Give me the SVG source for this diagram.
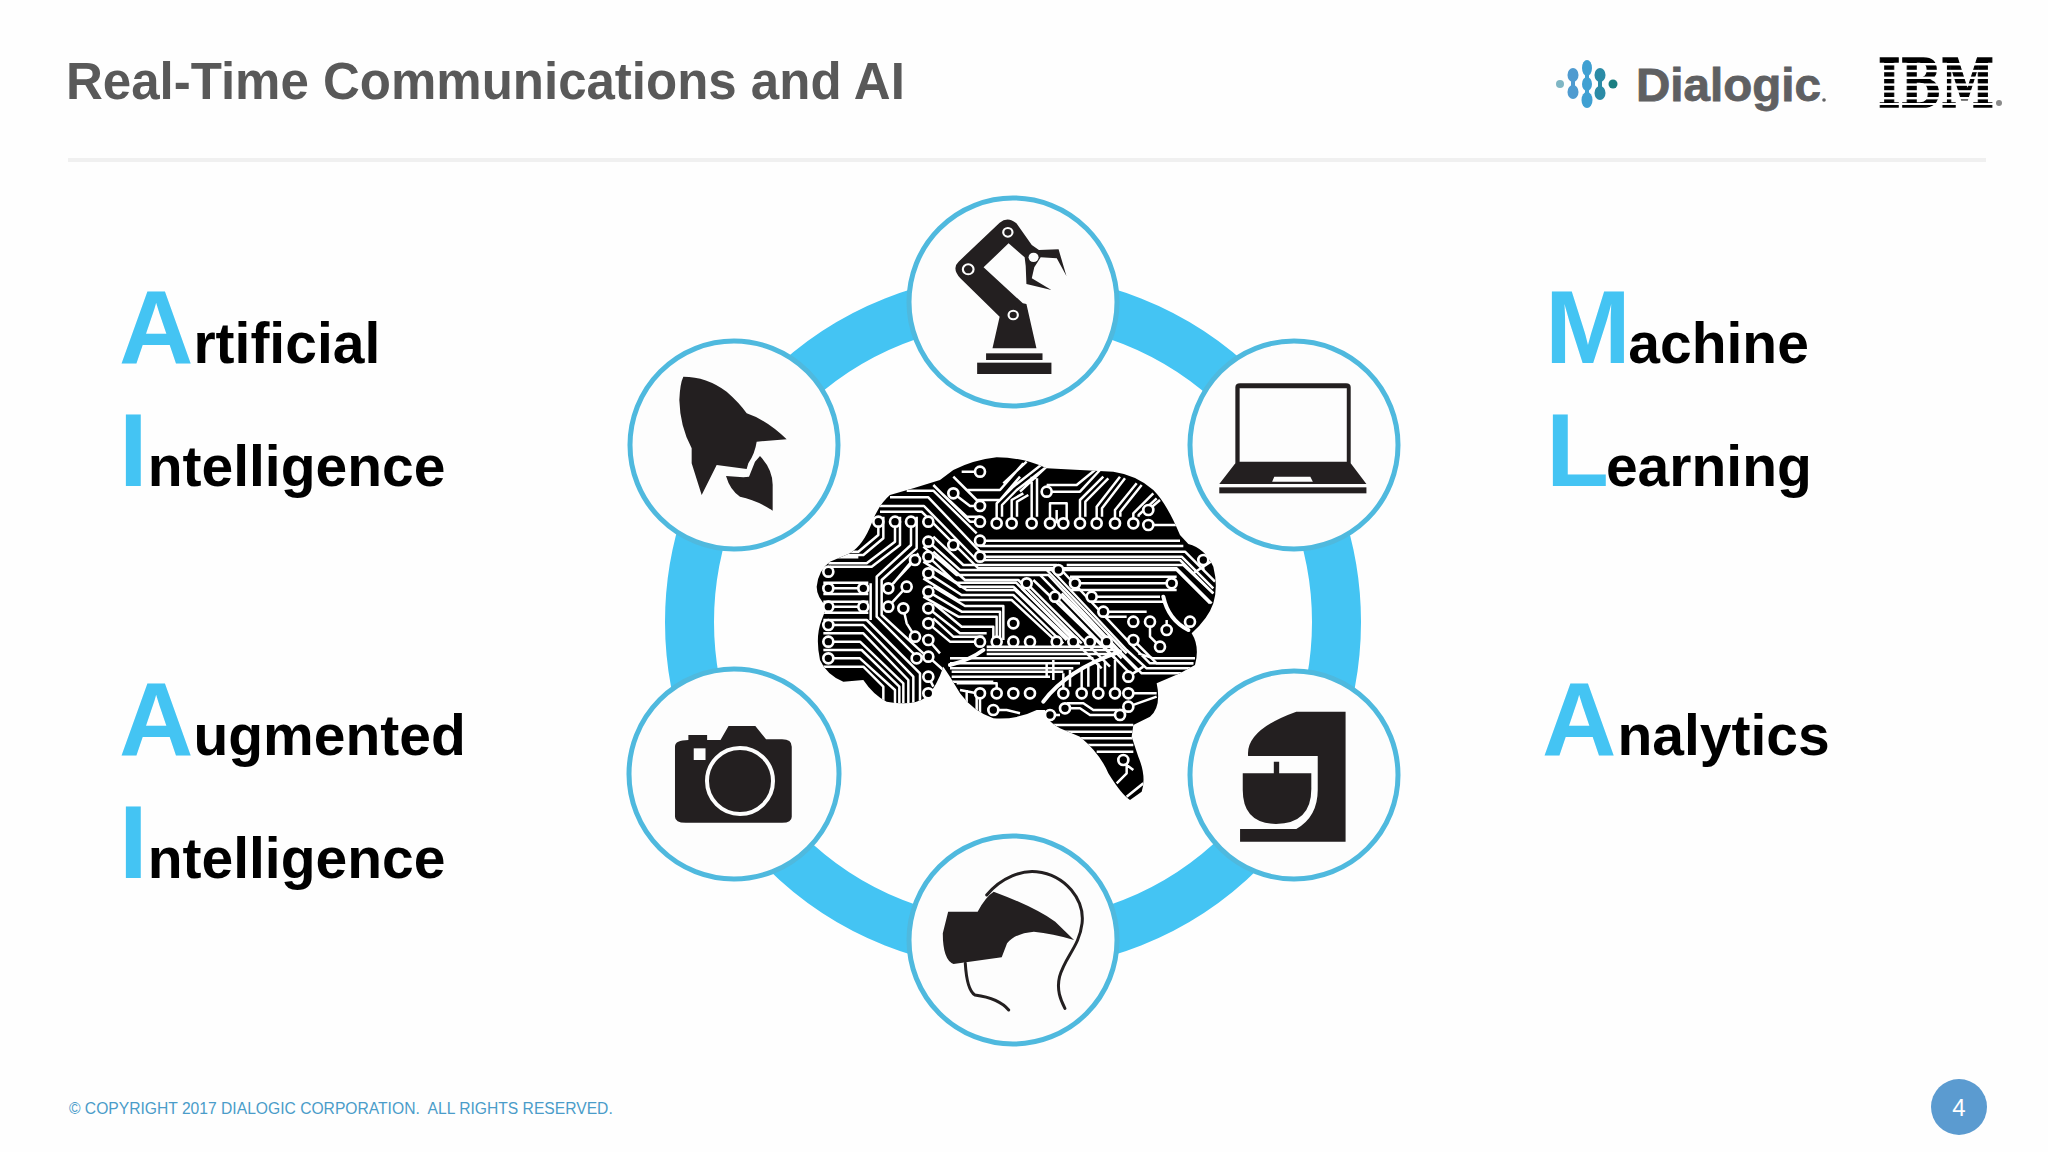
<svg xmlns="http://www.w3.org/2000/svg" xmlns:xlink="http://www.w3.org/1999/xlink" width="2048" height="1152" viewBox="0 0 2048 1152">
<style>
text{font-family:"Liberation Sans",Arial,sans-serif}
.lab{font-weight:700;fill:#000}
.cap{font-size:103px;fill:#44c4f3}
.low{font-size:57px}
.node{fill:#fdfdfd;stroke:#4fb9de;stroke-width:5}
.ink{fill:#231f20}
.hole{fill:#fdfdfd}
.t{fill:none;stroke:#fff;stroke-width:7.500;stroke-linejoin:round}
.p{fill:#000;stroke:#fff;stroke-width:8}
.line{fill:none;stroke:#231f20;stroke-width:3;vector-effect:non-scaling-stroke;stroke-linecap:round}
</style>
<defs>
<circle id="p" class="p" r="15"/>
<clipPath id="bc"><path id="bs" d="M110,500 Q115,450 150,425 L210,400 Q250,375 275,310 Q295,255 330,225 L400,205 L480,180 L520,150 Q580,120 650,112 Q730,112 800,145 L900,150 L1000,155 Q1070,165 1120,210 Q1160,250 1200,345 L1225,372 Q1275,385 1300,440 Q1315,500 1300,550 Q1285,595 1235,640 Q1260,680 1245,735 L1200,760 L1130,790 Q1145,860 1110,890 L1060,915 L1055,950 L1075,1010 Q1100,1070 1085,1115 L1050,1140 Q1025,1125 985,1060 Q960,1000 900,950 L840,925 Q795,900 795,870 L770,870 Q710,900 640,895 Q580,875 540,820 L510,770 L490,740 Q470,800 440,830 Q400,860 320,845 Q280,825 250,780 L190,785 Q140,765 120,720 Q105,650 125,600 L140,560 Q110,530 110,500Z"/></clipPath>
</defs>
<rect width="2048" height="1152" fill="#fefefe"/>

<g id="header">
<text x="66" y="99" font-size="51" font-weight="700" fill="#595959">Real-Time Communications and AI</text>
<rect x="68" y="158" width="1918" height="4" fill="#f0f0f0"/>
</g>

<g id="logo-dialogic">
<circle cx="1560" cy="84" r="4" fill="#7fb6c4"/>
<g fill="#4f9bd0"><ellipse cx="1573" cy="75" rx="5.500" ry="7"/><ellipse cx="1573" cy="92" rx="5.500" ry="7"/><rect x="1571" y="72" width="4" height="24"/></g>
<g fill="#3fa0d2"><ellipse cx="1587" cy="68" rx="5" ry="8"/><ellipse cx="1587" cy="84" rx="5" ry="7"/><ellipse cx="1587" cy="100" rx="5.500" ry="8"/><rect x="1585" y="64" width="4" height="40"/></g>
<g fill="#2b8ba6"><ellipse cx="1600" cy="75" rx="5.500" ry="7"/><ellipse cx="1600" cy="93" rx="5.500" ry="7"/><rect x="1598" y="72" width="4" height="24"/></g>
<circle cx="1613" cy="84" r="4.500" fill="#1b7f82"/>
<text x="1636" y="101" font-size="46" font-weight="700" fill="#5f6062" stroke="#5f6062" stroke-width=".8" textLength="185" lengthAdjust="spacingAndGlyphs">Dialogic</text>
<circle cx="1824" cy="100" r="1.800" fill="#5f6062"/>
</g>
<g id="logo-ibm">
<text x="1878" y="107" font-size="67" font-weight="700" fill="#000" stroke="#000" stroke-width="1.500" style="font-family:'DejaVu Serif',serif" textLength="116" lengthAdjust="spacingAndGlyphs">IBM</text>
<g fill="#fefefe"><rect x="1875" y="63" width="122" height="2.400"/><rect x="1875" y="69.800" width="122" height="2.400"/><rect x="1875" y="76.600" width="122" height="2.400"/><rect x="1875" y="83.400" width="122" height="2.400"/><rect x="1875" y="90.200" width="122" height="2.400"/><rect x="1875" y="97" width="122" height="2.400"/><rect x="1875" y="103" width="122" height="2"/></g>
<circle cx="1999" cy="103" r="3" fill="#8a8a8a"/>
</g>

<g id="labels">
<text class="lab" x="119" y="362.500"><tspan class="cap">A</tspan><tspan class="low">rtificial</tspan></text>
<text class="lab" x="119" y="485.500"><tspan class="cap">I</tspan><tspan class="low">ntelligence</tspan></text>
<text class="lab" x="119" y="754.500"><tspan class="cap">A</tspan><tspan class="low">ugmented</tspan></text>
<text class="lab" x="119" y="877.500"><tspan class="cap">I</tspan><tspan class="low">ntelligence</tspan></text>
<text class="lab" x="1545" y="362.500"><tspan class="cap">M</tspan><tspan class="low" dx="-2.500">achine</tspan></text>
<text class="lab" x="1546" y="485.500"><tspan class="cap">L</tspan><tspan class="low" dx="-3">earning</tspan></text>
<text class="lab" x="1542" y="754.500"><tspan class="cap">A</tspan><tspan class="low" dx="1">nalytics</tspan></text>
</g>

<g id="connectors">
<circle cx="1013" cy="622" r="323.500" fill="none" stroke="#44c4f3" stroke-width="49"/>
</g>

<g id="node-brain" transform="translate(780 420) scale(.33333)">
<use href="#bs" fill="#000"/>
<g clip-path="url(#bc)">
<path class="t" d="M330,232H445L600,395H1215L1305,485M300,258H432L590,420H1200L1300,520M380,212H460L590,340M460,195L570,305H600M520,220L570,258H600M520,170L560,210H660L730,130M545,155H600M650,310V250L700,200L790,130M695,310V240L730,220M755,310V170M810,310V250H860V310M830,310V270M800,215H900L960,150M900,310V240L970,170M950,310V260L1020,170M1005,310V270L1070,190M1060,310V280L1120,220M1105,315H1190M1105,270L1140,240M600,362H1200M600,378H1210M670,190L740,125M720,215L800,140M666,290V255L710,210L800,140M711,290V245L745,225M771,290V175M916,290V245L985,175M966,290V265L1035,175M1021,290V275L1085,195M1076,290V285L1130,235M300,275H425L595,445H1190L1295,550M600,410H1205L1300,505M800,195H890L945,150M540,190L590,240H660L720,170M480,215L560,290H600"/>
<path class="t" d="M295,305V345L235,395H150M345,305V365L260,430H145M393,305V375L290,470V590L415,715M410,290V385L305,480V585L430,700M405,420L325,505M380,500L325,560M370,565L380,610L405,650M145,505H250M130,488H265M130,522H265M145,560H250M145,615H250L400,770V850M145,665H240L370,790V850M130,600H260L420,760V850M145,715H240L345,810V850M130,640H250L385,780V850M130,690H245L358,800V850M130,740H250L310,800V850M150,430H250M150,412H235M310,290V355L250,405H150M360,290V375L275,440H150M130,545H265M130,578H265M415,400L340,490M272,490V600"/>
<path class="t" d="M445,365L540,450H815L1040,690L1100,745H1240M445,410L540,500H700L880,670M445,460L545,525H700L850,670M445,515L545,575H660V670M445,565L540,640H620M445,610L510,665H600M445,660L480,700M445,710L490,750M445,770L460,800M460,350L550,435H830L1060,680L1110,730H1240M460,395L555,480H715L905,670M460,445L560,510H705L860,660M460,500L555,558H670V660M460,550L545,620H640V660M460,595L520,650H610M430,380L530,465H805L1025,700L1085,760H1230M430,425L530,488H708L895,670M430,475L535,540H695L835,670M430,530L535,590H650V660M1075,700L1120,715H1245"/>
<path class="t" d="M740,490L990,740M760,480L1010,720M825,530L1050,760M800,450L1040,700M835,450H1190L1290,550M860,435H1210L1300,520M885,490H1175M870,470H1190M870,510H1190M935,530H1140M935,545H1150M970,575H1100M970,590H1040M1110,605V650L1140,680M1060,660L1130,730H1240M1270,420V450M1240,460L1300,420M1160,630V600M725,505L965,745M780,465L1025,715M845,520L1075,755"/>
<path class="t" d="M620,690H1010M620,680H1000M620,702H1000M510,715H940M510,730H900M510,745H880M515,755H850M515,770H810M530,790H650V820M515,785H640M540,810L590,820V880M600,820V880M560,810V860M800,730V770M820,720V780M850,820V760M905,820V745M955,820V730M1005,820V720M870,800V750M925,800V740M975,800V725M1045,770L1090,740M1045,820H1130M1045,860L1130,830M810,885H840M855,865H900L930,885H1020M860,850H910L940,870H1030M640,870H680L720,880M820,915H1060M850,935H1060M880,955H1060M920,975H1060M950,995H1060M1020,1020L1060,1050M1040,1010V1060L1010,1090M1090,1090L1040,1130"/>
</g>
<g><use href="#p" x="600" y="155"/><use href="#p" x="600" y="258"/><use href="#p" x="600" y="305"/><use href="#p" x="520" y="220"/><use href="#p" x="445" y="305"/><use href="#p" x="520" y="375"/><use href="#p" x="600" y="362"/><use href="#p" x="600" y="410"/>
<use href="#p" x="650" y="310"/><use href="#p" x="695" y="310"/><use href="#p" x="755" y="310"/><use href="#p" x="810" y="310"/><use href="#p" x="850" y="310"/><use href="#p" x="900" y="310"/><use href="#p" x="950" y="310"/><use href="#p" x="1005" y="310"/><use href="#p" x="1060" y="310"/><use href="#p" x="1105" y="315"/><use href="#p" x="1105" y="270"/><use href="#p" x="800" y="215"/>
<use href="#p" x="295" y="305"/><use href="#p" x="345" y="305"/><use href="#p" x="393" y="305"/><use href="#p" x="405" y="420"/><use href="#p" x="325" y="505"/><use href="#p" x="380" y="500"/><use href="#p" x="325" y="560"/><use href="#p" x="370" y="565"/><use href="#p" x="405" y="650"/><use href="#p" x="410" y="715"/>
<use href="#p" x="145" y="455"/><use href="#p" x="145" y="505"/><use href="#p" x="250" y="505"/><use href="#p" x="145" y="560"/><use href="#p" x="250" y="560"/><use href="#p" x="145" y="615"/><use href="#p" x="145" y="665"/><use href="#p" x="145" y="715"/>
<use href="#p" x="445" y="365"/><use href="#p" x="445" y="410"/><use href="#p" x="445" y="460"/><use href="#p" x="445" y="515"/><use href="#p" x="445" y="565"/><use href="#p" x="445" y="610"/><use href="#p" x="445" y="660"/><use href="#p" x="445" y="710"/><use href="#p" x="445" y="770"/><use href="#p" x="445" y="820"/>
<use href="#p" x="835" y="450"/><use href="#p" x="885" y="490"/><use href="#p" x="1175" y="490"/><use href="#p" x="935" y="530"/><use href="#p" x="970" y="575"/><use href="#p" x="740" y="490"/><use href="#p" x="825" y="530"/><use href="#p" x="1060" y="605"/><use href="#p" x="1110" y="605"/><use href="#p" x="1160" y="630"/><use href="#p" x="1230" y="605"/><use href="#p" x="1060" y="660"/><use href="#p" x="1140" y="680"/><use href="#p" x="1270" y="420"/>
<use href="#p" x="600" y="665"/><use href="#p" x="650" y="665"/><use href="#p" x="700" y="665"/><use href="#p" x="750" y="665"/><use href="#p" x="700" y="610"/><use href="#p" x="830" y="665"/><use href="#p" x="880" y="665"/><use href="#p" x="930" y="665"/><use href="#p" x="980" y="665"/>
<use href="#p" x="600" y="820"/><use href="#p" x="650" y="820"/><use href="#p" x="700" y="820"/><use href="#p" x="750" y="820"/><use href="#p" x="850" y="820"/><use href="#p" x="905" y="820"/><use href="#p" x="955" y="820"/><use href="#p" x="1005" y="820"/><use href="#p" x="1045" y="770"/><use href="#p" x="1045" y="820"/><use href="#p" x="1045" y="860"/><use href="#p" x="810" y="885"/><use href="#p" x="855" y="865"/><use href="#p" x="1020" y="885"/><use href="#p" x="640" y="870"/><use href="#p" x="1030" y="1020"/></g>
<path fill="none" stroke="#fff" stroke-width="12" stroke-linecap="round" d="M510,735Q570,720 610,690M790,845Q860,750 1020,695M1150,530Q1165,600 1225,630"/>
</g>

<g id="node-robot">
<circle class="node" cx="1013" cy="302" r="104"/>
<g transform="translate(880 180) scale(.35714 .33333)">
<path class="ink" d="M220,245L335,128Q358,108 382,130L425,195L445,210L500,208L522,288L495,235L450,232L432,262L425,295L480,330L410,312L408,258L405,232L360,190L290,262L400,370L410,372L438,505H315L335,410L225,295Q200,265 220,245Z"/>
<circle class="hole" cx="430" cy="232" r="14"/>
<ellipse cx="358" cy="157" rx="13" ry="13" fill="none" stroke="#fdfdfd" stroke-width="6"/>
<ellipse cx="247" cy="268" rx="15" ry="15" fill="none" stroke="#fdfdfd" stroke-width="6"/>
<ellipse cx="373" cy="405" rx="13" ry="13" fill="none" stroke="#fdfdfd" stroke-width="6"/>
<rect class="ink" x="297" y="520" width="158" height="20"/>
<rect class="ink" x="272" y="548" width="208" height="34"/>
</g>
</g>

<g id="node-laptop">
<circle class="node" cx="1294" cy="445" r="104"/>
<g transform="translate(880 180) scale(.35714 .33333)">
<path class="ink" fill-rule="evenodd" d="M995,622Q995,610 1008,610H1305Q1318,610 1318,622V850L1362,912H950L995,850ZM1007,625V845H1307V625ZM1104,890L1098,905H1212L1205,890Z"/>
<rect class="ink" x="950" y="922" width="412" height="18"/>
</g>
</g>

<g id="node-rocket">
<circle class="node" cx="734" cy="445" r="104"/>
<g transform="translate(600 320) scale(.33333)">
<path class="ink" d="M250,170Q320,170 380,215Q420,250 440,280Q500,300 560,358L470,365Q465,400 445,430L440,447L350,435L305,525L275,430L275,385Q240,320 238,240Q240,190 250,170Z"/>
<path class="ink" d="M378,468L430,472L447,470L465,425L480,408Q520,450 518,500L518,572Q470,540 420,530Q390,510 378,468Z"/>
</g>
</g>

<g id="node-camera">
<circle class="node" cx="734" cy="774" r="105"/>
<g transform="translate(600 650) scale(.53562 .33333)">
<path class="ink" d="M140,290Q140,270 165,270V255H200V270H225L240,228H290L310,268H340Q358,268 358,290V500Q358,518 340,518H160Q140,518 140,500Z"/>
<rect class="hole" x="175" y="295" width="22" height="35"/>
</g>
<circle cx="740" cy="781" r="33" fill="none" stroke="#fdfdfd" stroke-width="4"/>
</g>

<g id="node-mouse">
<circle class="node" cx="1294" cy="775" r="104"/>
<g transform="translate(600 650) scale(.53562 .33333)">
<path class="ink" d="M1300,185H1392V575H1195V537H1300Q1340,500 1340,420V318H1210Q1205,240 1300,185Z"/>
<path class="ink" d="M1200,370H1258V335H1268V370H1328V410Q1330,520 1262,522Q1200,520 1200,420Z"/>
</g>
</g>

<g id="node-vr">
<circle class="node" cx="1013" cy="940" r="104"/>
<g transform="translate(600 650) scale(.53562 .33333)">
<path class="ink" d="M735,725Q810,770 850,815L885,870Q845,850 810,845Q775,850 760,880L750,922L660,942Q640,930 640,850L650,785L705,785Q720,740 735,725Z"/>
<path class="line" d="M722,735C750,680 790,660 815,665C870,675 905,750 900,820C895,890 868,920 858,980C852,1020 860,1050 868,1075M682,940Q685,1020 700,1035Q745,1045 763,1080"/>
</g>
</g>

<g id="footer">
<text x="69" y="1114" font-size="15.650" fill="#4a9cc9" xml:space="preserve">© COPYRIGHT 2017 DIALOGIC CORPORATION.  ALL RIGHTS RESERVED.</text>
</g>
<g id="page-number">
<circle cx="1959" cy="1107" r="28" fill="#5b9bd0"/>
<text x="1959" y="1116" font-size="24" fill="#fff" text-anchor="middle">4</text>
</g>
</svg>
